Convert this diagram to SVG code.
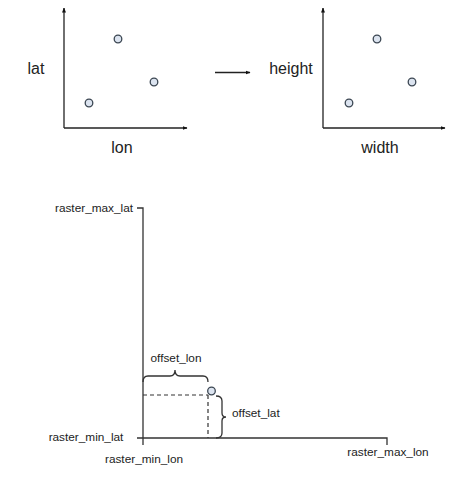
<svg xmlns="http://www.w3.org/2000/svg" width="474" height="478" viewBox="0 0 474 478">
<style>
.ax{stroke:#222;stroke-width:1.3;fill:none}
.ln{stroke:#333;stroke-width:1.3;fill:none}
.ds{stroke:#333;stroke-width:1.2;stroke-dasharray:4,3;fill:none}
.pt{fill:#dce4f0;stroke:#3b4652;stroke-width:1.3}
.big{font-family:"Liberation Sans",Arial,sans-serif;font-size:16px;fill:#222}
.sm{font-family:"Liberation Sans",Arial,sans-serif;font-size:11.8px;fill:#222}
</style>
<defs>
<marker id="ah" viewBox="0 0 10 10" refX="9" refY="5" markerWidth="5" markerHeight="5" orient="auto" markerUnits="userSpaceOnUse">
<path d="M0,1 L10,5 L0,9 z" fill="#111"/>
</marker>
</defs>
<g id="plot-latlon">
<line class="ax" x1="64" y1="128" x2="64" y2="8" marker-end="url(#ah)"/>
<line class="ax" x1="64" y1="128" x2="187" y2="128" marker-end="url(#ah)"/>
<circle class="pt" cx="118" cy="39" r="3.8"/>
<circle class="pt" cx="154" cy="82" r="3.8"/>
<circle class="pt" cx="89" cy="103" r="3.8"/>
<text class="big" x="36" y="74" text-anchor="middle">lat</text>
<text class="big" x="122" y="153" text-anchor="middle">lon</text>
</g>
<g id="plot-hw">
<line class="ax" x1="323" y1="128" x2="323" y2="8" marker-end="url(#ah)"/>
<line class="ax" x1="323" y1="128" x2="445" y2="128" marker-end="url(#ah)"/>
<circle class="pt" cx="377" cy="39" r="3.8"/>
<circle class="pt" cx="412" cy="82" r="3.8"/>
<circle class="pt" cx="349" cy="103" r="3.8"/>
<text class="big" x="291" y="74" text-anchor="middle">height</text>
<text class="big" x="380" y="153" text-anchor="middle">width</text>
</g>
<g id="connectors">
<line class="ax" x1="215" y1="72.5" x2="250" y2="72.5" marker-end="url(#ah)"/>
</g>
<g id="raster">
<polyline class="ln" points="137,208 143,208 143,445"/>
<polyline class="ln" points="137,438 387,438 387,445"/>
<line class="ds" x1="143" y1="395" x2="208" y2="395"/>
<line class="ds" x1="208" y1="395" x2="208" y2="438"/>
<path class="ln" d="M143,382 Q143,376 148,376 L170,376 Q175,376 175,370 Q175,376 180,376 L203,376 Q208,376 208,382"/>
<path class="ln" d="M216,396 Q222,396 222,401 L222,413 Q222,417 226,417 Q222,417 222,421 L222,433 Q222,438 216,438"/>
<circle class="pt" cx="211.5" cy="391" r="3.8"/>
<text class="sm" x="94" y="212" text-anchor="middle">raster_max_lat</text>
<text class="sm" x="86" y="441" text-anchor="middle">raster_min_lat</text>
<text class="sm" x="144" y="463" text-anchor="middle">raster_min_lon</text>
<text class="sm" x="388" y="456" text-anchor="middle">raster_max_lon</text>
<text class="sm" x="176" y="362" text-anchor="middle">offset_lon</text>
<text class="sm" x="232" y="417">offset_lat</text>
</g>
</svg>
